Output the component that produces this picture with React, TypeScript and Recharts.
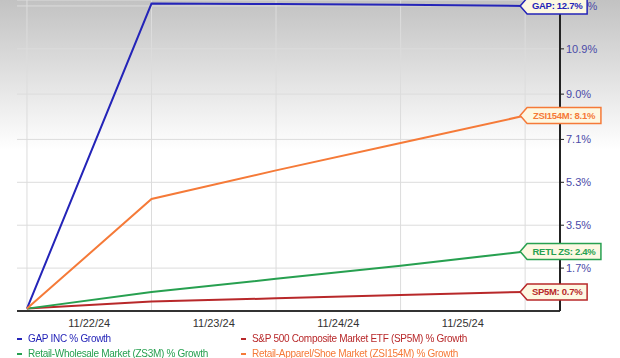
import { LineChart, Line, XAxis, YAxis, CartesianGrid, ReferenceLine } from 'recharts';

const DATES = ['11/22/24', '11/23/24', '11/24/24', '11/25/24'];
const POINTS = [0, 1, 2, 3, 4];
const Y_TICKS = [1.7, 3.5, 5.3, 7.1, 9.0, 10.9, 12.7];

const GAP = [0, 12.8, 12.78, 12.75, 12.7];
const SP5M = [0, 0.3, 0.43, 0.57, 0.7];
const ZS3M = [0, 0.7, 1.25, 1.8, 2.4];
const ZSI154M = [0, 4.6, 5.8, 6.95, 8.1];

const SERIES = [
  { key: 'gap', values: GAP, color: '#2424b8', tag: 'GAP', legend: 'GAP INC % Growth' },
  { key: 'sp5m', values: SP5M, color: '#b8282a', tag: 'SP5M', legend: 'S&P 500 Composite Market ETF (SP5M) % Growth' },
  { key: 'zs3m', values: ZS3M, color: '#27a050', tag: 'RETL ZS', legend: 'Retail-Wholesale Market (ZS3M) % Growth' },
  { key: 'zsi154m', values: ZSI154M, color: '#f57a38', tag: 'ZSI154M', legend: 'Retail-Apparel/Shoe Market (ZSI154M) % Growth' },
];

const data = POINTS.map((idx, i) => {
  const row: Record<string, number> = { idx };
  SERIES.forEach((s) => { row[s.key] = s.values[i]; });
  return row;
});

const FONT = '"Liberation Sans", Arial, sans-serif';

function makeTag(color: string, tag: string, last: number) {
  return (props: any) => {
    const { x, y, index, value } = props;
    if (index !== last) return null;
    const text = `${tag}: ${Number(value).toFixed(1)}%`;
    const w = text.length * 4.6 + 14;
    const x0 = x - 5;
    const d = `M${x0},${y} L${x0 + 7},${y - 8} L${x0 + 7 + w},${y - 8} L${x0 + 7 + w},${y + 8} L${x0 + 7},${y + 8} Z`;
    return (
      <g>
        <path d={d} fill="#fdf8e2" stroke={color} strokeWidth={1.5} />
        <text x={x0 + 7 + w / 2} y={y + 3.5} textAnchor="middle" fontSize={9.5} fontWeight="bold" fill={color} fontFamily={FONT} letterSpacing={-0.3}>
          {text}
        </text>
      </g>
    );
  };
}

export default function App() {
  return (
    <div style={{ position: 'fixed', left: 0, top: 0, width: 620, height: 358, background: 'linear-gradient(to bottom, #c2c2c2 0px, #ffffff 150px, #ffffff 358px)', fontFamily: FONT }}>
      <LineChart width={620} height={358} data={data} margin={{ top: 0, right: 0, left: 17, bottom: 0 }}>
        <CartesianGrid vertical={false} stroke="#dcdcdc" />
        {POINTS.map((p) => (
          <ReferenceLine key={p} x={p} stroke="#dcdcdc" />
        ))}
        <XAxis
          type="number"
          dataKey="idx"
          domain={[-0.08, 4.28]}
          allowDataOverflow
          ticks={[0.5, 1.5, 2.5, 3.5]}
          tickFormatter={(v: number) => DATES[Math.floor(v)]}
          tickLine={false}
          axisLine={{ stroke: '#333', strokeWidth: 2 }}
          tick={{ fontSize: 11, fill: '#333', fontFamily: FONT }}
          height={47}
          tickMargin={2}
        />
        <YAxis
          orientation="right"
          domain={[-0.1, 12.95]}
          allowDataOverflow
          ticks={Y_TICKS}
          tickFormatter={(v: number) => `${v.toFixed(1)}%`}
          axisLine={{ stroke: '#222', strokeWidth: 2 }}
          tickLine={{ stroke: '#222' }}
          tickSize={4}
          tick={{ fontSize: 11, fill: '#4a4aa8', fontFamily: FONT }}
          width={60}
        />
        {SERIES.map((s) => (
          <Line
            key={s.key}
            dataKey={s.key}
            stroke={s.color}
            strokeWidth={2}
            dot={false}
            isAnimationActive={false}
            label={makeTag(s.color, s.tag, POINTS.length - 1)}
          />
        ))}
      </LineChart>
      <div style={{ position: 'absolute', left: 17, top: 332, width: 600, display: 'grid', gridTemplateColumns: '224px 376px', rowGap: 2, fontFamily: FONT, fontSize: 10, letterSpacing: -0.3 }}>
        {SERIES.map((s) => (
          <div key={s.key} style={{ color: s.color, display: 'flex', alignItems: 'center', whiteSpace: 'nowrap', height: 13, lineHeight: '13px' }}>
            <span style={{ display: 'inline-block', width: 5, height: 2, background: s.color, marginRight: 6 }} />
            {s.legend}
          </div>
        ))}
      </div>
    </div>
  );
}
